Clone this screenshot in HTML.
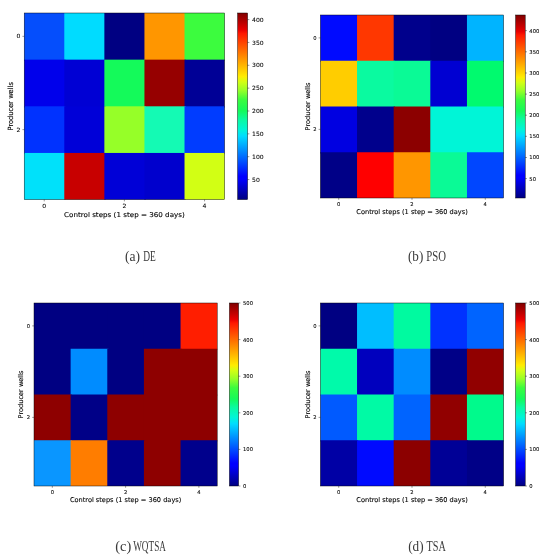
<!DOCTYPE html>
<html lang="en">
<head>
<meta charset="utf-8">
<title>Heatmaps</title>
<style>
html,body{margin:0;padding:0;background:#fff;}
body{width:550px;height:560px;overflow:hidden;}
svg{display:block;}
.t{font-family:"DejaVu Sans","Liberation Sans",sans-serif;fill:#000;stroke:#000;stroke-width:0.1;}
.s{stroke-width:0.07;}
.cap{font-family:"Liberation Serif","Noto Serif CJK SC",serif;fill:#3a3a3a;}
.ax{fill:none;stroke:#000;stroke-width:0.45;}
.tk{stroke:#000;stroke-width:0.4;}
</style>
</head>
<body>
<svg width="550" height="560" viewBox="0 0 550 560">
<defs>
<linearGradient id="jet" x1="0" y1="1" x2="0" y2="0">
<stop offset="0.000" stop-color="#000080"/>
<stop offset="0.110" stop-color="#0000ff"/>
<stop offset="0.125" stop-color="#0000ff"/>
<stop offset="0.340" stop-color="#00dcff"/>
<stop offset="0.375" stop-color="#00f5d7"/>
<stop offset="0.430" stop-color="#0afaa0"/>
<stop offset="0.476" stop-color="#14fa5a"/>
<stop offset="0.537" stop-color="#3cfc3e"/>
<stop offset="0.585" stop-color="#96ff28"/>
<stop offset="0.630" stop-color="#d2ff14"/>
<stop offset="0.660" stop-color="#ffec00"/>
<stop offset="0.890" stop-color="#ff1800"/>
<stop offset="0.910" stop-color="#e80000"/>
<stop offset="1.000" stop-color="#800000"/>
</linearGradient>
</defs>
<rect width="550" height="560" fill="#fff"/>
<g id="plot-a">
<rect x="24.20" y="13.00" width="41.28" height="47.85" fill="#054efc"/>
<rect x="64.28" y="13.00" width="41.28" height="47.85" fill="#00dcff"/>
<rect x="104.36" y="13.00" width="41.28" height="47.85" fill="#000082"/>
<rect x="144.44" y="13.00" width="41.28" height="47.85" fill="#ff9600"/>
<rect x="184.52" y="13.00" width="40.08" height="47.85" fill="#3cfc3e"/>
<rect x="24.20" y="59.65" width="41.28" height="47.85" fill="#0000eb"/>
<rect x="64.28" y="59.65" width="41.28" height="47.85" fill="#0000d4"/>
<rect x="104.36" y="59.65" width="41.28" height="47.85" fill="#14fa5a"/>
<rect x="144.44" y="59.65" width="41.28" height="47.85" fill="#960000"/>
<rect x="184.52" y="59.65" width="40.08" height="47.85" fill="#000096"/>
<rect x="24.20" y="106.30" width="41.28" height="47.85" fill="#0032ff"/>
<rect x="64.28" y="106.30" width="41.28" height="47.85" fill="#0000d8"/>
<rect x="104.36" y="106.30" width="41.28" height="47.85" fill="#96ff28"/>
<rect x="144.44" y="106.30" width="41.28" height="47.85" fill="#14fab4"/>
<rect x="184.52" y="106.30" width="40.08" height="47.85" fill="#003cff"/>
<rect x="24.20" y="152.95" width="41.28" height="46.65" fill="#00e1fa"/>
<rect x="64.28" y="152.95" width="41.28" height="46.65" fill="#c80000"/>
<rect x="104.36" y="152.95" width="41.28" height="46.65" fill="#0000d7"/>
<rect x="144.44" y="152.95" width="41.28" height="46.65" fill="#0000cd"/>
<rect x="184.52" y="152.95" width="40.08" height="46.65" fill="#d2ff14"/>
<rect class="ax" x="24.20" y="13.00" width="200.40" height="186.60"/>
<line class="tk" x1="44.24" y1="199.60" x2="44.24" y2="201.40"/>
<text class="t s" transform="translate(44.24 208.48) scale(1.074 1)" font-size="5.70" text-anchor="middle">0</text>
<line class="tk" x1="124.40" y1="199.60" x2="124.40" y2="201.40"/>
<text class="t s" transform="translate(124.40 208.48) scale(1.074 1)" font-size="5.70" text-anchor="middle">2</text>
<line class="tk" x1="204.56" y1="199.60" x2="204.56" y2="201.40"/>
<text class="t s" transform="translate(204.56 208.48) scale(1.074 1)" font-size="5.70" text-anchor="middle">4</text>
<line class="tk" x1="22.40" y1="36.33" x2="24.20" y2="36.33"/>
<text class="t s" transform="translate(18.40 38.41) scale(1.074 1)" font-size="5.70" text-anchor="middle">0</text>
<line class="tk" x1="22.40" y1="129.62" x2="24.20" y2="129.62"/>
<text class="t s" transform="translate(18.40 131.71) scale(1.074 1)" font-size="5.70" text-anchor="middle">2</text>
<text class="t" transform="translate(124.40 216.50) scale(1.074 1)" font-size="6.67" text-anchor="middle">Control steps (1 step = 360 days)</text>
<text class="t" transform="translate(13.40 106.30) rotate(-90) scale(1 1.074)" font-size="6.67" text-anchor="middle">Producer wells</text>
<rect x="237.60" y="13.00" width="10.00" height="186.60" fill="url(#jet)"/>
<rect class="ax" x="237.60" y="13.00" width="10.00" height="186.60"/>
<line class="tk" x1="247.60" y1="19.60" x2="249.40" y2="19.60"/>
<text class="t s" transform="translate(252.00 21.68) scale(1.074 1)" font-size="5.70" text-anchor="start">400</text>
<line class="tk" x1="247.60" y1="42.45" x2="249.40" y2="42.45"/>
<text class="t s" transform="translate(252.00 44.53) scale(1.074 1)" font-size="5.70" text-anchor="start">350</text>
<line class="tk" x1="247.60" y1="65.30" x2="249.40" y2="65.30"/>
<text class="t s" transform="translate(252.00 67.38) scale(1.074 1)" font-size="5.70" text-anchor="start">300</text>
<line class="tk" x1="247.60" y1="88.15" x2="249.40" y2="88.15"/>
<text class="t s" transform="translate(252.00 90.23) scale(1.074 1)" font-size="5.70" text-anchor="start">250</text>
<line class="tk" x1="247.60" y1="111.00" x2="249.40" y2="111.00"/>
<text class="t s" transform="translate(252.00 113.08) scale(1.074 1)" font-size="5.70" text-anchor="start">200</text>
<line class="tk" x1="247.60" y1="133.85" x2="249.40" y2="133.85"/>
<text class="t s" transform="translate(252.00 135.93) scale(1.074 1)" font-size="5.70" text-anchor="start">150</text>
<line class="tk" x1="247.60" y1="156.70" x2="249.40" y2="156.70"/>
<text class="t s" transform="translate(252.00 158.78) scale(1.074 1)" font-size="5.70" text-anchor="start">100</text>
<line class="tk" x1="247.60" y1="179.55" x2="249.40" y2="179.55"/>
<text class="t s" transform="translate(252.00 181.63) scale(1.074 1)" font-size="5.70" text-anchor="start">50</text>
<text class="cap" y="260.80" font-size="13.8"><tspan x="124.90" textLength="15.10" lengthAdjust="spacingAndGlyphs">(a)</tspan><tspan x="143.20" textLength="12.60" lengthAdjust="spacingAndGlyphs">DE</tspan></text>
</g>
<g id="plot-b">
<rect x="320.40" y="15.00" width="37.84" height="46.95" fill="#000aff"/>
<rect x="357.04" y="15.00" width="37.84" height="46.95" fill="#ff3700"/>
<rect x="393.68" y="15.00" width="37.84" height="46.95" fill="#00008c"/>
<rect x="430.32" y="15.00" width="37.84" height="46.95" fill="#000082"/>
<rect x="466.96" y="15.00" width="36.64" height="46.95" fill="#00b4ff"/>
<rect x="320.40" y="60.75" width="37.84" height="46.95" fill="#ffcd00"/>
<rect x="357.04" y="60.75" width="37.84" height="46.95" fill="#0afaa0"/>
<rect x="393.68" y="60.75" width="37.84" height="46.95" fill="#0afa96"/>
<rect x="430.32" y="60.75" width="37.84" height="46.95" fill="#0000d2"/>
<rect x="466.96" y="60.75" width="36.64" height="46.95" fill="#00fa6e"/>
<rect x="320.40" y="106.50" width="37.84" height="46.95" fill="#0000e1"/>
<rect x="357.04" y="106.50" width="37.84" height="46.95" fill="#00008c"/>
<rect x="393.68" y="106.50" width="37.84" height="46.95" fill="#8c0000"/>
<rect x="430.32" y="106.50" width="37.84" height="46.95" fill="#00f5d7"/>
<rect x="466.96" y="106.50" width="36.64" height="46.95" fill="#00f5d7"/>
<rect x="320.40" y="152.25" width="37.84" height="45.75" fill="#000087"/>
<rect x="357.04" y="152.25" width="37.84" height="45.75" fill="#ff0000"/>
<rect x="393.68" y="152.25" width="37.84" height="45.75" fill="#ff9600"/>
<rect x="430.32" y="152.25" width="37.84" height="45.75" fill="#0afa96"/>
<rect x="466.96" y="152.25" width="36.64" height="45.75" fill="#0046ff"/>
<rect class="ax" x="320.40" y="15.00" width="183.20" height="183.00"/>
<line class="tk" x1="338.72" y1="198.00" x2="338.72" y2="199.80"/>
<text class="t s" transform="translate(338.72 206.22)" font-size="5.25" text-anchor="middle">0</text>
<line class="tk" x1="412.00" y1="198.00" x2="412.00" y2="199.80"/>
<text class="t s" transform="translate(412.00 206.22)" font-size="5.25" text-anchor="middle">2</text>
<line class="tk" x1="485.28" y1="198.00" x2="485.28" y2="199.80"/>
<text class="t s" transform="translate(485.28 206.22)" font-size="5.25" text-anchor="middle">4</text>
<line class="tk" x1="318.60" y1="37.88" x2="320.40" y2="37.88"/>
<text class="t s" transform="translate(315.00 39.79)" font-size="5.25" text-anchor="middle">0</text>
<line class="tk" x1="318.60" y1="129.38" x2="320.40" y2="129.38"/>
<text class="t s" transform="translate(315.00 131.29)" font-size="5.25" text-anchor="middle">2</text>
<text class="t" transform="translate(412.00 214.18)" font-size="6.60" text-anchor="middle">Control steps (1 step = 360 days)</text>
<text class="t" transform="translate(309.60 106.50) rotate(-90)" font-size="6.60" text-anchor="middle">Producer wells</text>
<rect x="515.60" y="15.00" width="9.60" height="183.00" fill="url(#jet)"/>
<rect class="ax" x="515.60" y="15.00" width="9.60" height="183.00"/>
<line class="tk" x1="525.20" y1="30.60" x2="527.00" y2="30.60"/>
<text class="t s" transform="translate(529.30 32.52)" font-size="5.25" text-anchor="start">400</text>
<line class="tk" x1="525.20" y1="51.80" x2="527.00" y2="51.80"/>
<text class="t s" transform="translate(529.30 53.72)" font-size="5.25" text-anchor="start">350</text>
<line class="tk" x1="525.20" y1="73.00" x2="527.00" y2="73.00"/>
<text class="t s" transform="translate(529.30 74.92)" font-size="5.25" text-anchor="start">300</text>
<line class="tk" x1="525.20" y1="94.10" x2="527.00" y2="94.10"/>
<text class="t s" transform="translate(529.30 96.02)" font-size="5.25" text-anchor="start">250</text>
<line class="tk" x1="525.20" y1="115.20" x2="527.00" y2="115.20"/>
<text class="t s" transform="translate(529.30 117.12)" font-size="5.25" text-anchor="start">200</text>
<line class="tk" x1="525.20" y1="136.30" x2="527.00" y2="136.30"/>
<text class="t s" transform="translate(529.30 138.22)" font-size="5.25" text-anchor="start">150</text>
<line class="tk" x1="525.20" y1="157.50" x2="527.00" y2="157.50"/>
<text class="t s" transform="translate(529.30 159.42)" font-size="5.25" text-anchor="start">100</text>
<line class="tk" x1="525.20" y1="178.60" x2="527.00" y2="178.60"/>
<text class="t s" transform="translate(529.30 180.52)" font-size="5.25" text-anchor="start">50</text>
<text class="cap" y="260.80" font-size="13.8"><tspan x="408.00" textLength="15.30" lengthAdjust="spacingAndGlyphs">(b)</tspan><tspan x="426.30" textLength="19.70" lengthAdjust="spacingAndGlyphs">PSO</tspan></text>
</g>
<g id="plot-c">
<rect x="34.00" y="303.00" width="37.84" height="46.95" fill="#000082"/>
<rect x="70.64" y="303.00" width="37.84" height="46.95" fill="#000082"/>
<rect x="107.28" y="303.00" width="37.84" height="46.95" fill="#000082"/>
<rect x="143.92" y="303.00" width="37.84" height="46.95" fill="#000082"/>
<rect x="180.56" y="303.00" width="36.64" height="46.95" fill="#ff1e00"/>
<rect x="34.00" y="348.75" width="37.84" height="46.95" fill="#000082"/>
<rect x="70.64" y="348.75" width="37.84" height="46.95" fill="#008cff"/>
<rect x="107.28" y="348.75" width="37.84" height="46.95" fill="#000082"/>
<rect x="143.92" y="348.75" width="37.84" height="46.95" fill="#8e0000"/>
<rect x="180.56" y="348.75" width="36.64" height="46.95" fill="#8e0000"/>
<rect x="34.00" y="394.50" width="37.84" height="46.95" fill="#8e0000"/>
<rect x="70.64" y="394.50" width="37.84" height="46.95" fill="#000087"/>
<rect x="107.28" y="394.50" width="37.84" height="46.95" fill="#8e0000"/>
<rect x="143.92" y="394.50" width="37.84" height="46.95" fill="#8e0000"/>
<rect x="180.56" y="394.50" width="36.64" height="46.95" fill="#8e0000"/>
<rect x="34.00" y="440.25" width="37.84" height="45.75" fill="#0a96ff"/>
<rect x="70.64" y="440.25" width="37.84" height="45.75" fill="#ff7d00"/>
<rect x="107.28" y="440.25" width="37.84" height="45.75" fill="#00008c"/>
<rect x="143.92" y="440.25" width="37.84" height="45.75" fill="#8e0000"/>
<rect x="180.56" y="440.25" width="36.64" height="45.75" fill="#00008c"/>
<rect class="ax" x="34.00" y="303.00" width="183.20" height="183.00"/>
<line class="tk" x1="52.32" y1="486.00" x2="52.32" y2="487.80"/>
<text class="t s" transform="translate(52.32 494.32)" font-size="5.25" text-anchor="middle">0</text>
<line class="tk" x1="125.60" y1="486.00" x2="125.60" y2="487.80"/>
<text class="t s" transform="translate(125.60 494.32)" font-size="5.25" text-anchor="middle">2</text>
<line class="tk" x1="198.88" y1="486.00" x2="198.88" y2="487.80"/>
<text class="t s" transform="translate(198.88 494.32)" font-size="5.25" text-anchor="middle">4</text>
<line class="tk" x1="32.20" y1="325.88" x2="34.00" y2="325.88"/>
<text class="t s" transform="translate(28.40 327.79)" font-size="5.25" text-anchor="middle">0</text>
<line class="tk" x1="32.20" y1="417.38" x2="34.00" y2="417.38"/>
<text class="t s" transform="translate(28.40 419.29)" font-size="5.25" text-anchor="middle">2</text>
<text class="t" transform="translate(125.60 502.38)" font-size="6.60" text-anchor="middle">Control steps (1 step = 360 days)</text>
<text class="t" transform="translate(23.20 394.50) rotate(-90)" font-size="6.60" text-anchor="middle">Producer wells</text>
<rect x="229.40" y="303.00" width="9.20" height="183.00" fill="url(#jet)"/>
<rect class="ax" x="229.40" y="303.00" width="9.20" height="183.00"/>
<line class="tk" x1="238.60" y1="303.00" x2="240.40" y2="303.00"/>
<text class="t s" transform="translate(243.00 304.92)" font-size="5.25" text-anchor="start">500</text>
<line class="tk" x1="238.60" y1="339.60" x2="240.40" y2="339.60"/>
<text class="t s" transform="translate(243.00 341.52)" font-size="5.25" text-anchor="start">400</text>
<line class="tk" x1="238.60" y1="376.20" x2="240.40" y2="376.20"/>
<text class="t s" transform="translate(243.00 378.12)" font-size="5.25" text-anchor="start">300</text>
<line class="tk" x1="238.60" y1="412.80" x2="240.40" y2="412.80"/>
<text class="t s" transform="translate(243.00 414.72)" font-size="5.25" text-anchor="start">200</text>
<line class="tk" x1="238.60" y1="449.40" x2="240.40" y2="449.40"/>
<text class="t s" transform="translate(243.00 451.32)" font-size="5.25" text-anchor="start">100</text>
<line class="tk" x1="238.60" y1="486.00" x2="240.40" y2="486.00"/>
<text class="t s" transform="translate(243.00 487.92)" font-size="5.25" text-anchor="start">0</text>
<text class="cap" y="551.30" font-size="13.8"><tspan x="115.30" textLength="16.00" lengthAdjust="spacingAndGlyphs">(c)</tspan><tspan x="133.20" textLength="32.70" lengthAdjust="spacingAndGlyphs">WQTSA</tspan></text>
</g>
<g id="plot-d">
<rect x="320.40" y="303.00" width="37.84" height="46.95" fill="#000082"/>
<rect x="357.04" y="303.00" width="37.84" height="46.95" fill="#00beff"/>
<rect x="393.68" y="303.00" width="37.84" height="46.95" fill="#00faa0"/>
<rect x="430.32" y="303.00" width="37.84" height="46.95" fill="#0032ff"/>
<rect x="466.96" y="303.00" width="36.64" height="46.95" fill="#0064ff"/>
<rect x="320.40" y="348.75" width="37.84" height="46.95" fill="#00faaa"/>
<rect x="357.04" y="348.75" width="37.84" height="46.95" fill="#0000be"/>
<rect x="393.68" y="348.75" width="37.84" height="46.95" fill="#008cff"/>
<rect x="430.32" y="348.75" width="37.84" height="46.95" fill="#000087"/>
<rect x="466.96" y="348.75" width="36.64" height="46.95" fill="#910000"/>
<rect x="320.40" y="394.50" width="37.84" height="46.95" fill="#005aff"/>
<rect x="357.04" y="394.50" width="37.84" height="46.95" fill="#00faa5"/>
<rect x="393.68" y="394.50" width="37.84" height="46.95" fill="#0064ff"/>
<rect x="430.32" y="394.50" width="37.84" height="46.95" fill="#910000"/>
<rect x="466.96" y="394.50" width="36.64" height="46.95" fill="#00fa8c"/>
<rect x="320.40" y="440.25" width="37.84" height="45.75" fill="#0000a5"/>
<rect x="357.04" y="440.25" width="37.84" height="45.75" fill="#000aff"/>
<rect x="393.68" y="440.25" width="37.84" height="45.75" fill="#8c0000"/>
<rect x="430.32" y="440.25" width="37.84" height="45.75" fill="#000096"/>
<rect x="466.96" y="440.25" width="36.64" height="45.75" fill="#000087"/>
<rect class="ax" x="320.40" y="303.00" width="183.20" height="183.00"/>
<line class="tk" x1="338.72" y1="486.00" x2="338.72" y2="487.80"/>
<text class="t s" transform="translate(338.72 494.32)" font-size="5.25" text-anchor="middle">0</text>
<line class="tk" x1="412.00" y1="486.00" x2="412.00" y2="487.80"/>
<text class="t s" transform="translate(412.00 494.32)" font-size="5.25" text-anchor="middle">2</text>
<line class="tk" x1="485.28" y1="486.00" x2="485.28" y2="487.80"/>
<text class="t s" transform="translate(485.28 494.32)" font-size="5.25" text-anchor="middle">4</text>
<line class="tk" x1="318.60" y1="325.88" x2="320.40" y2="325.88"/>
<text class="t s" transform="translate(315.00 327.79)" font-size="5.25" text-anchor="middle">0</text>
<line class="tk" x1="318.60" y1="417.38" x2="320.40" y2="417.38"/>
<text class="t s" transform="translate(315.00 419.29)" font-size="5.25" text-anchor="middle">2</text>
<text class="t" transform="translate(412.00 502.38)" font-size="6.60" text-anchor="middle">Control steps (1 step = 360 days)</text>
<text class="t" transform="translate(309.60 394.50) rotate(-90)" font-size="6.60" text-anchor="middle">Producer wells</text>
<rect x="515.60" y="303.00" width="9.60" height="183.00" fill="url(#jet)"/>
<rect class="ax" x="515.60" y="303.00" width="9.60" height="183.00"/>
<line class="tk" x1="525.20" y1="303.00" x2="527.00" y2="303.00"/>
<text class="t s" transform="translate(529.30 304.92)" font-size="5.25" text-anchor="start">500</text>
<line class="tk" x1="525.20" y1="339.60" x2="527.00" y2="339.60"/>
<text class="t s" transform="translate(529.30 341.52)" font-size="5.25" text-anchor="start">400</text>
<line class="tk" x1="525.20" y1="376.20" x2="527.00" y2="376.20"/>
<text class="t s" transform="translate(529.30 378.12)" font-size="5.25" text-anchor="start">300</text>
<line class="tk" x1="525.20" y1="412.80" x2="527.00" y2="412.80"/>
<text class="t s" transform="translate(529.30 414.72)" font-size="5.25" text-anchor="start">200</text>
<line class="tk" x1="525.20" y1="449.40" x2="527.00" y2="449.40"/>
<text class="t s" transform="translate(529.30 451.32)" font-size="5.25" text-anchor="start">100</text>
<line class="tk" x1="525.20" y1="486.00" x2="527.00" y2="486.00"/>
<text class="t s" transform="translate(529.30 487.92)" font-size="5.25" text-anchor="start">0</text>
<text class="cap" y="551.30" font-size="13.8"><tspan x="408.20" textLength="15.40" lengthAdjust="spacingAndGlyphs">(d)</tspan><tspan x="426.60" textLength="19.30" lengthAdjust="spacingAndGlyphs">TSA</tspan></text>
</g>
</svg>
</body>
</html>
